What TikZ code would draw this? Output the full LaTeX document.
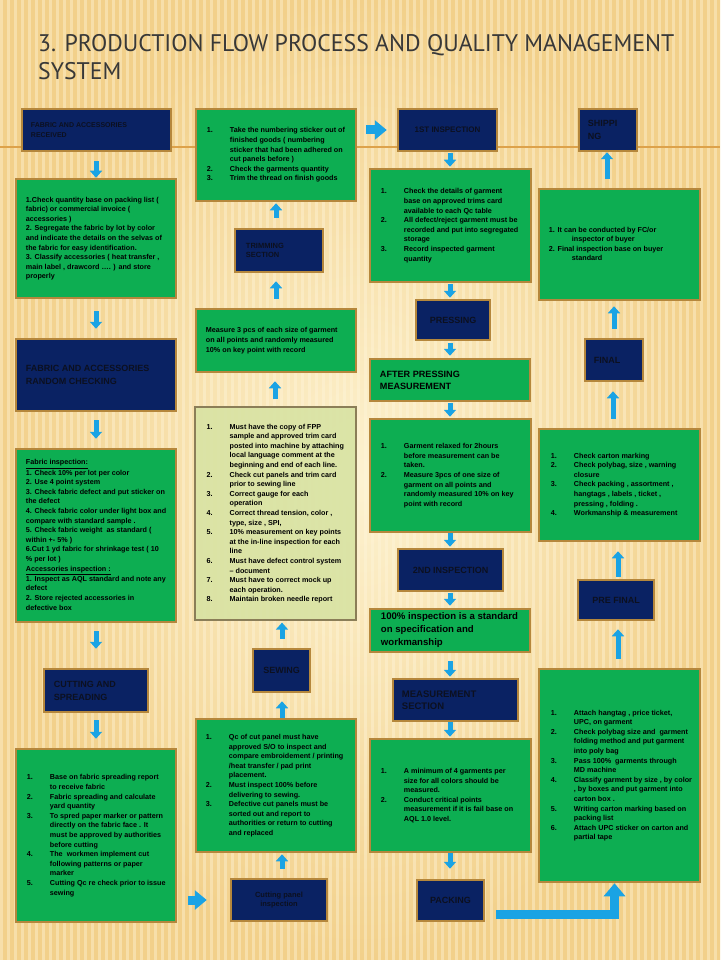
\documentclass[tikz,border=0pt]{standalone}
\usepackage{fontspec}
\setmainfont{Liberation Sans}
\newfontfamily\titlefont{PT Sans}
\usetikzlibrary{arrows.meta}
\definecolor{navy}{HTML}{0A2263}
\definecolor{grn}{HTML}{0DAE52}
\definecolor{brd}{HTML}{B5873C}
\definecolor{pale}{HTML}{D8E3A3}
\definecolor{paleb}{HTML}{8B7E58}
\definecolor{arr}{HTML}{1AA3E4}
\definecolor{bgin}{HTML}{FDF2D0}
\definecolor{bgout}{HTML}{F2D08A}
\definecolor{stripe}{HTML}{FFF6DC}
\definecolor{ttl}{HTML}{383838}
\definecolor{navytxt}{HTML}{0C1020}
\definecolor{hline}{HTML}{DDA24A}
\newcommand\lstx[1]{{\fontsize{7.2}{9.6}\selectfont\bfseries\renewcommand\arraystretch{1}\begin{tabular}{@{}p{23pt}@{}l@{}}#1\end{tabular}}}
\newcommand\plainx[1]{{\fontsize{7.2}{9.6}\selectfont\bfseries\renewcommand\arraystretch{1}\begin{tabular}{@{}l@{}}#1\end{tabular}}}
\newcommand\darr[5]{\draw[varrow, shorten <=#4pt, shorten >=#5pt] (#1.south -| #3) -- (#2.north -| #3);}
\newcommand\uarr[5]{\draw[varrow, shorten <=#4pt, shorten >=#5pt] (#1.north -| #3) -- (#2.south -| #3);}
\tikzset{
  box/.style={draw=brd, line width=2.5pt, inner sep=0pt},
  gbox/.style={box, fill=grn},
  nbox/.style={box, fill=navy, text=navytxt, font=\fontsize{9}{13}\selectfont\bfseries, align=center},
  palebox/.style={draw=paleb, line width=1.2pt, fill=pale, fill opacity=0.9, inner sep=0pt},
  txt/.style={inner sep=0pt, text=black, align=left, anchor=west},
  ntxt/.style={inner sep=0pt, text=navytxt, align=left, anchor=west, font=\fontsize{9}{13}\selectfont\bfseries},
  varrow/.style={draw=arr, line width=5pt, -{Triangle[width=12pt,length=7pt]}},
  harrow/.style={draw=arr, line width=9pt, -{Triangle[width=19pt,length=12pt]}},
  bigarrow/.style={draw=arr, line width=9pt, line join=miter, -{Triangle[width=21pt,length=13pt]}},
  titlestyle/.style={anchor=base west, inner sep=0pt, font=\titlefont\fontsize{24}{28}\selectfont, xscale=0.99, text=ttl}
}
\begin{document}
\begin{tikzpicture}[x=1pt,y=-1pt]
\useasboundingbox (0,0) rectangle (720,960);
% background
\shade[inner color=bgin, outer color=bgout] (0,0) rectangle (720,960);
\foreach \i in {0,7,...,714} { \fill[stripe, opacity=0.4] (\i,0) rectangle ++(2.5,960); }
\draw[hline, line width=1.5pt] (0,147) -- (720,147);
% title
\node[titlestyle] (t1) at (38,52) {3. PRODUCTION FLOW PROCESS AND QUALITY MANAGEMENT};
\node[titlestyle] (t2) at (38,80) {SYSTEM};
% coordinates for arrow lines
\coordinate (x96) at (96,0);
\coordinate (x275) at (275,0);
\coordinate (x276) at (276,0);
\coordinate (x282) at (282,0);
\coordinate (x450) at (450,0);
\coordinate (x607) at (607,0);
\coordinate (x613) at (613,0);
\coordinate (x614) at (614,0);
\coordinate (x618) at (618,0);
% ---------- column 1 ----------
\node[nbox, minimum width=149pt, minimum height=42pt] (rec) at (96.5,130) {};
\node[ntxt, font=\fontsize{7}{10}\selectfont\bfseries] (rect) at ([xshift=10pt]rec.west) {FABRIC AND ACCESSORIES\\RECEIVED};
\node[gbox, minimum width=160pt, minimum height=119pt] (g1) at (96,238.5) {};
\node[txt] (g1t) at ([xshift=11pt]g1.west) {\plainx{%
1.Check quantity base on packing list (\\
fabric) or commercial invoice (\\
accessories )\\
2. Segregate the fabric by lot by color\\
and indicate the details on the selvas of\\
the fabric for easy identification.\\
3. Classify accessories ( heat transfer ,\\
main label , drawcord …. ) and store\\
properly}};
\node[nbox, minimum width=160pt, minimum height=72pt] (rnd) at (96,375) {};
\node[ntxt] (rndt) at ([xshift=11pt]rnd.west) {FABRIC AND ACCESSORIES\\RANDOM CHECKING};
\node[gbox, minimum width=160pt, minimum height=173pt] (g2) at (96,535.5) {};
\node[txt] (g2t) at ([xshift=11pt]g2.west) {\plainx{%
\underline{Fabric inspection:}\\
1. Check 10\% per lot per color\\
2. Use 4 point system\\
3. Check fabric defect and put sticker on\\
the defect\\
4. Check fabric color under light box and\\
compare with standard sample .\\
5. Check fabric weight \ as standard (\\
within +- 5\% )\\
6.Cut 1 yd fabric for shrinkage test ( 10\\
\% per lot )\\
\underline{Accessories inspection :}\\
1. Inspect as AQL standard and note any\\
defect\\
2. Store rejected accessories in\\
defective box}};
\node[nbox, minimum width=104pt, minimum height=43pt] (cut) at (96,690.5) {};
\node[ntxt] (cutt) at ([xshift=11pt]cut.west) {CUTTING AND\\SPREADING};
\node[gbox, minimum width=160pt, minimum height=173pt] (g3) at (96,835.5) {};
\node[txt] (g3t) at ([xshift=12pt]g3.west) {\lstx{%
1. & Base on fabric spreading report\\
 & to receive fabric\\
2. & Fabric spreading and calculate\\
 & yard quantity\\
3. & To spred paper marker or pattern\\
 & directly on the fabric face . It\\
 & must be approved by authorities\\
 & before cutting\\
4. & The \ workmen implement cut\\
 & following patterns or paper\\
 & marker\\
5. & Cutting Qc re check prior to issue\\
 & sewing}};
% ---------- column 2 ----------
\node[nbox, minimum width=96pt, minimum height=42pt, font=\fontsize{7.5}{9.5}\selectfont\bfseries] (cpanel) at (279,900) {Cutting panel\\inspection};
\node[gbox, minimum width=160pt, minimum height=133pt] (g5) at (276,785.5) {};
\node[txt] (g5t) at ([xshift=11pt]g5.west) {\lstx{%
1. & Qc of cut panel must have\\
 & approved S/O to inspect and\\
 & compare embroidement / printing\\
 & /heat transfer / pad print\\
 & placement.\\
2. & Must inspect 100\% before\\
 & delivering to sewing.\\
3. & Defective cut panels must be\\
 & sorted out and report to\\
 & authorities or return to cutting\\
 & and replaced}};
\node[nbox, minimum width=57pt, minimum height=43pt] (sew) at (281.5,670.5) {SEWING};
\node[palebox, minimum width=161pt, minimum height=213pt] (pale) at (275.5,513.5) {};
\node[txt] (palet) at ([xshift=12pt]pale.west) {\lstx{%
1. & Must have the copy of FPP\\
 & sample and approved trim card\\
 & posted into machine by attaching\\
 & local language comment at the\\
 & beginning and end of each line.\\
2. & Check cut panels and trim card\\
 & prior to sewing line\\
3. & Correct gauge for each\\
 & operation\\
4. & Correct thread tension, color ,\\
 & type, size , SPI,\\
5. & 10\% measurement on key points\\
 & at the in-line inspection for each\\
 & line\\
6. & Must have defect control system\\
 & – document\\
7. & Must have to correct mock up\\
 & each operation.\\
8. & Maintain broken needle report}};
\node[gbox, minimum width=160pt, minimum height=63pt] (g6) at (276,340.5) {};
\node[txt] (g6t) at ([xshift=11pt]g6.west) {\plainx{%
Measure 3 pcs of each size of garment\\
on all points and randomly measured\\
10\% on key point with record}};
\node[nbox, minimum width=88pt, minimum height=43pt] (trim) at (279,250.5) {};
\node[ntxt, font=\fontsize{7.5}{9.5}\selectfont\bfseries] (trimt) at ([xshift=12pt]trim.west) {TRIMMING\\SECTION};
\node[gbox, minimum width=160pt, minimum height=92pt] (g7) at (276,155) {};
\node[txt] (g7t) at ([xshift=12pt]g7.west) {\lstx{%
1. & Take the numbering sticker out of\\
 & finished goods ( numbering\\
 & sticker that had been adhered on\\
 & cut panels before )\\
2. & Check the garments quantity\\
3. & Trim the thread on finish goods}};
% ---------- column 3 ----------
\node[nbox, minimum width=99pt, minimum height=42pt, font=\fontsize{8}{12}\selectfont\bfseries] (ins1) at (447.5,130) {1ST INSPECTION};
\node[gbox, minimum width=161pt, minimum height=113pt] (g8) at (450.5,225.5) {};
\node[txt] (g8t) at ([xshift=12pt]g8.west) {\lstx{%
1. & Check the details of garment\\
 & base on approved trims card\\
 & available to each Qc table\\
2. & All defect/reject garment must be\\
 & recorded and put into segregated\\
 & storage\\
3. & Record inspected garment\\
 & quantity}};
\node[nbox, minimum width=74pt, minimum height=40pt] (press) at (453,320) {PRESSING};
\node[gbox, minimum width=160pt, minimum height=42pt] (ap) at (450,380) {};
\node[txt, font=\fontsize{9.1}{12}\selectfont\bfseries] (apt) at ([xshift=11pt]ap.west) {AFTER PRESSING\\MEASUREMENT};
\node[gbox, minimum width=161pt, minimum height=113pt] (g9) at (450.5,475.5) {};
\node[txt] (g9t) at ([xshift=12pt]g9.west) {\lstx{%
1. & Garment relaxed for 2hours\\
 & before measurement can be\\
 & taken.\\
2. & Measure 3pcs of one size of\\
 & garment on all points and\\
 & randomly measured 10\% on key\\
 & point with record}};
\node[nbox, minimum width=105pt, minimum height=42pt] (ins2) at (450.5,570) {2ND INSPECTION};
\node[gbox, minimum width=160pt, minimum height=43pt] (g10) at (450,630.5) {};
\node[txt, font=\fontsize{9.6}{13}\selectfont\bfseries] (g10t) at ([xshift=12pt]g10.west) {100\% inspection is a standard\\on specification and\\workmanship};
\node[nbox, minimum width=125pt, minimum height=42pt] (meas) at (455.5,700) {};
\node[ntxt, font=\fontsize{9.5}{12}\selectfont\bfseries] (meast) at ([xshift=10pt]meas.west) {MEASUREMENT\\SECTION};
\node[gbox, minimum width=161pt, minimum height=113pt] (g11) at (450.5,795.5) {};
\node[txt] (g11t) at ([xshift=12pt]g11.west) {\lstx{%
1. & A minimum of 4 garments per\\
 & size for all colors should be\\
 & measured.\\
2. & Conduct critical points\\
 & measurement if it is fail base on\\
 & AQL 1.0 level.}};
\node[nbox, minimum width=67pt, minimum height=41pt] (pack) at (450.5,900.5) {PACKING};
% ---------- column 4 ----------
\node[nbox, minimum width=58pt, minimum height=42pt] (ship) at (608,130) {};
\node[ntxt] (shipt) at ([xshift=10pt]ship.west) {SHIPPI\\NG};
\node[gbox, minimum width=161pt, minimum height=111pt] (g14) at (619.5,244.5) {};
\node[txt] (g14t) at ([xshift=11pt]g14.west) {\lstx{%
\multicolumn{2}{@{}l@{}}{1. It can be conducted by FC/or}\\
 & inspector of buyer\\
\multicolumn{2}{@{}l@{}}{2. Final inspection base on buyer}\\
 & standard}};
\node[nbox, minimum width=58pt, minimum height=42pt] (fin) at (614,360) {};
\node[ntxt] (fint) at ([xshift=10pt]fin.west) {FINAL};
\node[gbox, minimum width=161pt, minimum height=112pt] (g13) at (619.5,485) {};
\node[txt] (g13t) at ([xshift=13pt]g13.west) {\lstx{%
1. & Check carton marking\\
2. & Check polybag, size , warning\\
 & closure\\
3. & Check packing , assortment ,\\
 & hangtags , labels , ticket ,\\
 & pressing , folding .\\
4. & Workmanship \& measurement}};
\node[nbox, minimum width=76pt, minimum height=40pt] (pf) at (616,600) {PRE FINAL};
\node[gbox, minimum width=161pt, minimum height=213pt] (g12) at (619.5,775.5) {};
\node[txt] (g12t) at ([xshift=13pt]g12.west) {\lstx{%
1. & Attach hangtag , price ticket,\\
 & UPC, on garment\\
2. & Check polybag size and \ garment\\
 & folding method and put garment\\
 & into poly bag\\
3. & Pass 100\% \ garments through\\
 & MD machine\\
4. & Classify garment by size , by color\\
 & , by boxes and put garment into\\
 & carton box .\\
5. & Writing carton marking based on\\
 & packing list\\
6. & Attach UPC sticker on carton and\\
 & partial tape}};
% ---------- arrows ----------
\darr{rec}{g1}{x96}{9}{0}
\darr{g1}{rnd}{x96}{12}{9}
\darr{rnd}{g2}{x96}{8}{9}
\darr{g2}{cut}{x96}{8}{19}
\darr{cut}{g3}{x96}{7}{9}
\draw[harrow, shorten <=11pt, shorten >=23pt] (g3.east |- cpanel.west) -- (cpanel.west);
\uarr{cpanel}{g5}{x282}{9}{1}
\uarr{g5}{sew}{x282}{0}{8}
\uarr{sew}{pale}{x282}{9}{2}
\uarr{pale}{g6}{x275}{7}{8}
\uarr{g6}{trim}{x276}{9}{8}
\uarr{trim}{g7}{x276}{10}{1}
\draw[harrow, shorten <=9pt, shorten >=10pt] (g7.east |- ins1.west) -- (ins1.west);
\darr{ins1}{g8}{x450}{1}{1}
\darr{g8}{press}{x450}{1}{1}
\darr{press}{ap}{x450}{2}{2}
\darr{ap}{g9}{x450}{1}{1}
\darr{g9}{ins2}{x450}{0}{1}
\darr{ins2}{g10}{x450}{1}{2}
\darr{g10}{meas}{x450}{8}{1}
\darr{meas}{g11}{x450}{0}{1}
\darr{g11}{pack}{x450}{0}{10}
\coordinate (bend) at (614.5,914);
\draw[bigarrow, shorten <=11pt] (pack.east |- bend) -- (bend) -- (bend |- g12.south);
\uarr{g12}{pf}{x618}{9}{8}
\uarr{pf}{g13}{x618}{2}{9}
\uarr{g13}{fin}{x613}{9}{9}
\uarr{fin}{g14}{x614}{9}{5}
\uarr{g14}{ship}{x607}{9}{0}
\end{tikzpicture}
\end{document}
